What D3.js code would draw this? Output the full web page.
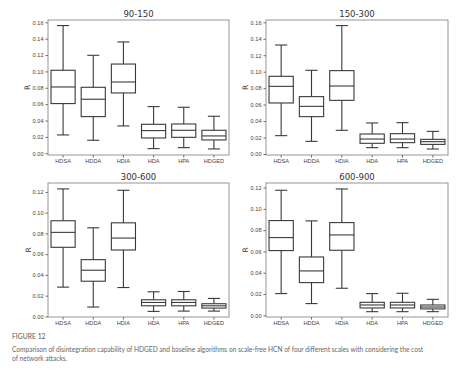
<!DOCTYPE html>
<html>
<head>
<meta charset="utf-8">
<script src="https://cdn.jsdelivr.net/npm/d3@7"></script>
<style>
  body { margin: 0; background: #fff; }
  svg { font-family: "DejaVu Sans", sans-serif; }
</style>
</head>
<body>
<div id="chart"></div>
<script>
const algorithms = ["HDSA", "HDDA", "HDIA", "HDA", "HPA", "HDGED"];

// each entry: [whiskerLow, q1, median, q3, whiskerHigh]
const scale90to150 = [
  [0.0224, 0.0607, 0.0810, 0.1014, 0.1560],
  [0.0159, 0.0448, 0.0660, 0.0806, 0.1197],
  [0.0334, 0.0737, 0.0871, 0.1090, 0.1360],
  [0.0057, 0.0187, 0.0277, 0.0354, 0.0570],
  [0.0069, 0.0195, 0.0281, 0.0358, 0.0562],
  [0.0053, 0.0163, 0.0212, 0.0281, 0.0452]
];
const scale150to300 = [
  [0.0223, 0.0620, 0.0822, 0.0944, 0.1324],
  [0.0154, 0.0454, 0.0579, 0.0697, 0.1017],
  [0.0288, 0.0652, 0.0826, 0.1013, 0.1560],
  [0.0077, 0.0130, 0.0182, 0.0243, 0.0377],
  [0.0077, 0.0138, 0.0182, 0.0247, 0.0381],
  [0.0061, 0.0117, 0.0150, 0.0178, 0.0275]
];
const scale300to600 = [
  [0.0282, 0.0666, 0.0810, 0.0922, 0.1229],
  [0.0090, 0.0339, 0.0445, 0.0547, 0.0854],
  [0.0278, 0.0640, 0.0755, 0.0902, 0.1216],
  [0.0048, 0.0102, 0.0134, 0.0160, 0.0237],
  [0.0051, 0.0102, 0.0134, 0.0160, 0.0240],
  [0.0051, 0.0080, 0.0102, 0.0122, 0.0173]
];
const scale600to900 = [
  [0.0204, 0.0608, 0.0730, 0.0890, 0.1175],
  [0.0110, 0.0307, 0.0417, 0.0548, 0.0887],
  [0.0254, 0.0611, 0.0755, 0.0871, 0.1187],
  [0.0034, 0.0069, 0.0097, 0.0122, 0.0204],
  [0.0034, 0.0069, 0.0097, 0.0122, 0.0207],
  [0.0034, 0.0060, 0.0078, 0.0097, 0.0150]
];

const yTicksTop = [0, 0.02, 0.04, 0.06, 0.08, 0.10, 0.12, 0.14, 0.16];
const yTicksBottom = [0, 0.02, 0.04, 0.06, 0.08, 0.10, 0.12];

const panels = [
  { title: "90-150", data: scale90to150, x0: 48, x1: 229, y0: 20, y1: 155, domain: [-0.0021, 0.1628], ticks: yTicksTop, labelX: 27 },
  { title: "150-300", data: scale150to300, x0: 266, x1: 448, y0: 20, y1: 155, domain: [-0.0012, 0.1628], ticks: yTicksTop, labelX: 245 },
  { title: "300-600", data: scale300to600, x0: 48, x1: 229, y0: 183, y1: 317, domain: [-0.0006, 0.1286], ticks: yTicksBottom, labelX: 28 },
  { title: "600-900", data: scale600to900, x0: 266, x1: 448, y0: 183, y1: 317, domain: [-0.0016, 0.1243], ticks: yTicksBottom, labelX: 245 }
];

var width = 474;
var height = 370;
const svg = d3.select("#chart").append("svg")
  .attr("width", width)
  .attr("height", height);

panels.forEach(p => {
  const x = d3.scaleBand()
    .domain(algorithms)
    .range([p.x0, p.x1])
    .paddingInner(0.2)
    .paddingOuter(0.1);
  const y = d3.scaleLinear()
    .domain(p.domain)
    .range([p.y1, p.y0]);

  const g = svg.append("g");

  // y axis
  const yAxis = g.append("g")
    .attr("transform", "translate(" + p.x0 + ",0)")
    .call(d3.axisLeft(y).tickValues(p.ticks).tickFormat(d3.format(".2f")).tickSize(2.5).tickPadding(2));
  yAxis.select(".domain").remove();
  yAxis.selectAll("text").attr("font-size", 5.6).attr("fill", "#444");
  yAxis.selectAll("line").attr("stroke", "#666");

  // x axis
  const xAxis = g.append("g")
    .attr("transform", "translate(0," + p.y1 + ")")
    .call(d3.axisBottom(x).tickSize(2.5).tickPadding(2));
  xAxis.select(".domain").remove();
  xAxis.selectAll("text").attr("font-size", 5.6).attr("fill", "#444");
  xAxis.selectAll("line").attr("stroke", "#666");

  // frame
  g.append("rect")
    .attr("x", p.x0).attr("y", p.y0)
    .attr("width", p.x1 - p.x0).attr("height", p.y1 - p.y0)
    .attr("fill", "none")
    .attr("stroke", "#8a8a8a")
    .attr("stroke-width", 0.9);

  // boxes
  const bw = x.bandwidth();
  const boxes = g.selectAll("g.box")
    .data(p.data)
    .join("g")
    .attr("class", "box")
    .attr("transform", (d, i) => "translate(" + x(algorithms[i]) + ",0)");

  boxes.append("line")
    .attr("x1", bw / 2).attr("x2", bw / 2)
    .attr("y1", d => y(d[0])).attr("y2", d => y(d[1]));
  boxes.append("line")
    .attr("x1", bw / 2).attr("x2", bw / 2)
    .attr("y1", d => y(d[3])).attr("y2", d => y(d[4]));
  boxes.append("line")
    .attr("x1", bw * 0.25).attr("x2", bw * 0.75)
    .attr("y1", d => y(d[0])).attr("y2", d => y(d[0]));
  boxes.append("line")
    .attr("x1", bw * 0.25).attr("x2", bw * 0.75)
    .attr("y1", d => y(d[4])).attr("y2", d => y(d[4]));
  boxes.append("rect")
    .attr("x", 0).attr("width", bw)
    .attr("y", d => y(d[3]))
    .attr("height", d => y(d[1]) - y(d[3]))
    .attr("fill", "none");
  boxes.append("line")
    .attr("x1", 0).attr("x2", bw)
    .attr("y1", d => y(d[2])).attr("y2", d => y(d[2]));
  boxes.selectAll("line, rect")
    .attr("stroke", "#3a3a3a")
    .attr("stroke-width", 1.1);

  // title
  g.append("text")
    .attr("x", (p.x0 + p.x1) / 2)
    .attr("y", p.y0 - 3.5)
    .attr("text-anchor", "middle")
    .attr("font-size", 8.5)
    .attr("fill", "#333")
    .text(p.title);

  // y label
  g.append("text")
    .attr("transform", "translate(" + (p.labelX + 2.5) + "," + ((p.y0 + p.y1) / 2) + ") rotate(-90)")
    .attr("text-anchor", "middle")
    .attr("font-size", 7.5)
    .attr("fill", "#333")
    .text("R");
});

// caption
svg.append("text")
  .attr("x", 12).attr("y", 338.5)
  .attr("font-family", "Lato, sans-serif")
  .attr("font-size", 6.8)
  .attr("fill", "#555")
  .text("FIGURE 12");

const captionLines = [
  "Comparison of disintegration capability of HDGED and baseline algorithms on scale-free HCN of four different scales with considering the cost",
  "of network attacks."
];
svg.selectAll("text.caption")
  .data(captionLines)
  .join("text")
  .attr("class", "caption")
  .attr("x", 12)
  .attr("y", (d, i) => 351.5 + i * 9.8)
  .attr("font-family", "Lato, sans-serif")
  .attr("font-size", 6.6)
  .attr("fill", "#666")
  .text(d => d);
</script>
</body>
</html>
